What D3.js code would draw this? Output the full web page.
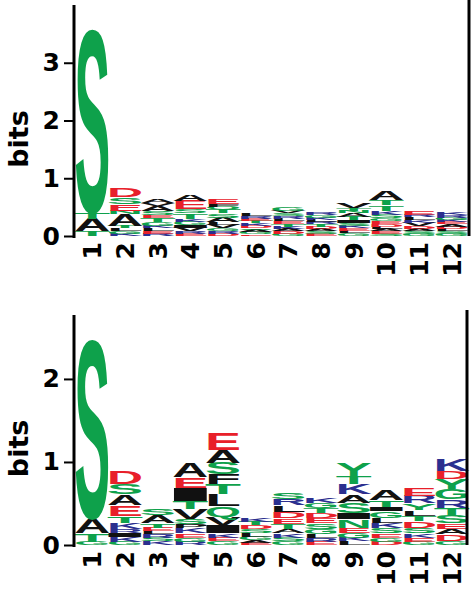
<!DOCTYPE html>
<html><head><meta charset="utf-8">
<script src="https://cdn.jsdelivr.net/npm/d3@7"></script>
<style>body{margin:0;background:#fff}text{font-family:"Liberation Sans",Arial,sans-serif;font-weight:bold}.lab{font-family:"DejaVu Sans",sans-serif}</style>
</head><body>
<script>
const positions = ['1','2','3','4','5','6','7','8','9','10','11','12'];
const topTicks = [0, 1, 2, 3];
const bottomTicks = [0, 1, 2];

// stacks listed bottom to top: [residue, bits]
const topStacks = [
  [['T',0.08],['A',0.22],['T',0.12],['S',3.25]],
  [['K',0.04],['G',0.04],['L',0.05],['T',0.05],['A',0.2],['N',0.06],['E',0.12],['S',0.12],['D',0.16]],
  [['R',0.04],['E',0.05],['L',0.05],['K',0.04],['G',0.06],['T',0.07],['E',0.05],['S',0.07],['A',0.09],['V',0.05],['A',0.06]],
  [['E',0.04],['R',0.04],['V',0.06],['I',0.05],['G',0.06],['K',0.05],['T',0.1],['S',0.06],['E',0.15],['A',0.12]],
  [['D',0.04],['R',0.04],['G',0.05],['V',0.06],['L',0.05],['A',0.08],['S',0.07],['T',0.07],['Q',0.05],['F',0.05],['E',0.1]],
  [['E',0.03],['G',0.04],['A',0.04],['S',0.03],['D',0.04],['K',0.04],['T',0.04],['E',0.04],['R',0.04],['L',0.04]],
  [['G',0.04],['D',0.04],['A',0.04],['K',0.04],['T',0.05],['E',0.05],['L',0.04],['R',0.04],['S',0.05],['V',0.04],['G',0.06]],
  [['E',0.04],['S',0.04],['A',0.04],['D',0.04],['T',0.04],['R',0.04],['L',0.04],['K',0.04],['G',0.04],['R',0.04]],
  [['G',0.05],['L',0.04],['E',0.04],['K',0.04],['S',0.05],['I',0.05],['T',0.06],['A',0.06],['N',0.05],['T',0.05],['V',0.08]],
  [['S',0.04],['E',0.04],['A',0.04],['L',0.04],['D',0.05],['E',0.05],['G',0.05],['S',0.06],['K',0.06],['T',0.1],['T',0.1],['A',0.16]],
  [['G',0.04],['S',0.04],['A',0.04],['D',0.05],['V',0.06],['K',0.05],['L',0.05],['R',0.04],['E',0.07]],
  [['G',0.04],['S',0.04],['L',0.04],['D',0.04],['A',0.04],['E',0.04],['K',0.04],['G',0.04],['R',0.04],['K',0.04]]
];
const bottomStacks = [
  [['G',0.04],['T',0.1],['A',0.18],['S',2.2]],
  [['G',0.04],['K',0.06],['I',0.05],['R',0.04],['K',0.08],['T',0.08],['E',0.13],['A',0.13],['S',0.13],['D',0.16]],
  [['K',0.05],['S',0.04],['R',0.04],['L',0.04],['E',0.04],['T',0.05],['A',0.1],['S',0.08]],
  [['R',0.04],['G',0.05],['E',0.05],['K',0.06],['P',0.05],['S',0.06],['V',0.12],['T',0.1],['I',0.16],['E',0.13],['A',0.18]],
  [['G',0.05],['E',0.04],['K',0.05],['I',0.1],['V',0.1],['Q',0.13],['L',0.14],['T',0.12],['F',0.12],['S',0.14],['A',0.16],['E',0.2]],
  [['E',0.03],['A',0.03],['G',0.04],['L',0.05],['S',0.04],['D',0.05],['T',0.04],['K',0.05]],
  [['G',0.05],['S',0.04],['K',0.05],['A',0.05],['T',0.06],['E',0.07],['D',0.08],['L',0.08],['R',0.08],['S',0.08]],
  [['E',0.04],['R',0.04],['L',0.05],['G',0.06],['S',0.07],['E',0.06],['D',0.06],['T',0.07],['G',0.06],['K',0.06]],
  [['L',0.05],['K',0.04],['G',0.06],['E',0.06],['N',0.1],['I',0.08],['S',0.12],['A',0.1],['K',0.12],['T',0.1],['Y',0.16]],
  [['D',0.04],['G',0.05],['E',0.05],['S',0.07],['K',0.06],['L',0.06],['G',0.08],['I',0.05],['T',0.08],['A',0.12]],
  [['G',0.04],['E',0.05],['K',0.05],['S',0.07],['D',0.08],['T',0.06],['L',0.07],['Y',0.08],['R',0.09],['E',0.09]],
  [['G',0.05],['D',0.08],['A',0.06],['E',0.07],['S',0.09],['T',0.1],['R',0.1],['G',0.12],['Y',0.12],['D',0.1],['K',0.15]]
];

const colorOf = (r) => {
  if ('DE'.includes(r)) return '#e8202a';
  if ('KRH'.includes(r)) return '#2b2f8f';
  if ('STGYCQN'.includes(r)) return '#0ea14b';
  return '#111';
};

const svg = d3.select('body').append('svg').attr('width', 474).attr('height', 589);

function panel(stacks, ticks, yMax, y0, y1, rightX) {
  const x = d3.scaleBand().domain(positions).range([76, 468]).padding(0);
  const y = d3.scaleLinear().domain([0, yMax]).range([y0, y1]);
  const g = svg.append('g');

  stacks.forEach((stack, i) => {
    const bx = x(positions[i]);
    let acc = 0;
    stack.forEach(([res, h]) => {
      const yb = y(acc), yt = y(acc + h);
      acc += h;
      const t = g.append('text').text(res).attr('font-size', 100).attr('fill', colorOf(res));
      const bb = t.node().getBBox();
      const w = t.node().getComputedTextLength();
      const ink = res === 'I' ? w * 0.5 : w * 0.88;
      const sx = (x.bandwidth() - 1) / ink;
      const sy = (yb - yt) / 72;
      const off = res === 'I' ? w * 0.25 : w * 0.06;
      t.attr('transform', `translate(${bx + 0.5 - off * sx},${yb}) scale(${sx},${sy})`);
    });
  });

  g.append('line').attr('x1', 74).attr('x2', 74).attr('y1', y1).attr('y2', y0 + 2)
    .attr('stroke', '#000').attr('stroke-width', 3);
  g.append('line').attr('x1', rightX).attr('x2', rightX).attr('y1', y1 - 5).attr('y2', y0)
    .attr('stroke', '#000').attr('stroke-width', 3);

  const ax = d3.axisLeft(y).tickValues(ticks).tickSize(10).tickFormat(d3.format('d'));
  const a = g.append('g').attr('transform', 'translate(74,0)').call(ax);
  a.select('.domain').remove();
  a.selectAll('line').attr('stroke-width', 2);
  a.selectAll('text').attr('class', 'lab').attr('font-size', 25)
    .attr('font-family', '"DejaVu Sans",sans-serif').attr('font-weight', 'bold').attr('x', -14);

  g.append('text').attr('class', 'lab').text('bits').attr('font-size', 27)
    .attr('transform', `translate(28,${y(yMax * 0.42)}) rotate(-90)`).attr('text-anchor', 'middle');

  g.selectAll('.pos').data(positions).join('text').attr('class', 'lab pos')
    .text(d => d).attr('font-size', 25).attr('text-anchor', 'end')
    .attr('transform', d => `translate(${x(d) + x.bandwidth() / 2 + 9},${y0 + 6}) rotate(-90)`);
}

panel(topStacks, topTicks, 4, 236, 5, 469);
panel(bottomStacks, bottomTicks, 2.77, 545, 315, 467);
</script>
</body></html>
